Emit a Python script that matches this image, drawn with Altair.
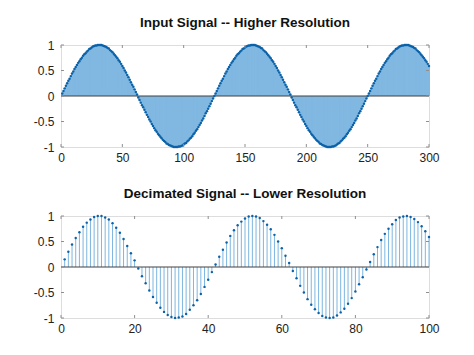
import altair as alt
import pandas as pd

# ---- data ----
top_values = [
    0.05, 0.10, 0.15, 0.20, 0.25, 0.30, 0.34, 0.39, 0.44, 0.48,
    0.53, 0.57, 0.61, 0.65, 0.68, 0.72, 0.75, 0.79, 0.82, 0.84,
    0.87, 0.89, 0.92, 0.93, 0.95, 0.97, 0.98, 0.99, 0.99, 1.00,
    1.00, 1.00, 1.00, 0.99, 0.98, 0.97, 0.96, 0.94, 0.93, 0.90,
    0.88, 0.86, 0.83, 0.80, 0.77, 0.74, 0.70, 0.67, 0.63, 0.59,
    0.55, 0.50, 0.46, 0.41, 0.37, 0.32, 0.27, 0.22, 0.18, 0.13,
    0.08, 0.03, -0.03, -0.08, -0.13, -0.18, -0.22, -0.27, -0.32, -0.37,
    -0.41, -0.46, -0.50, -0.55, -0.59, -0.63, -0.67, -0.70, -0.74, -0.77,
    -0.80, -0.83, -0.86, -0.88, -0.90, -0.93, -0.94, -0.96, -0.97, -0.98,
    -0.99, -1.00, -1.00, -1.00, -1.00, -0.99, -0.99, -0.98, -0.97, -0.95,
    -0.93, -0.92, -0.89, -0.87, -0.84, -0.82, -0.79, -0.75, -0.72, -0.68,
    -0.65, -0.61, -0.57, -0.53, -0.48, -0.44, -0.39, -0.34, -0.30, -0.25,
    -0.20, -0.15, -0.10, -0.05,
    0.00, 0.05, 0.10, 0.15, 0.20, 0.25, 0.30, 0.34, 0.39, 0.44,
    0.48, 0.53, 0.57, 0.61, 0.65, 0.68, 0.72, 0.75, 0.79, 0.82,
    0.84, 0.87, 0.89, 0.92, 0.93, 0.95, 0.97, 0.98, 0.99, 0.99,
    1.00, 1.00, 1.00, 1.00, 0.99, 0.98, 0.97, 0.96, 0.94, 0.93,
    0.90, 0.88, 0.86, 0.83, 0.80, 0.77, 0.74, 0.70, 0.67, 0.63,
    0.59, 0.55, 0.50, 0.46, 0.41, 0.37, 0.32, 0.27, 0.22, 0.18,
    0.13, 0.08, 0.03, -0.03, -0.08, -0.13, -0.18, -0.22, -0.27, -0.32,
    -0.37, -0.41, -0.46, -0.50, -0.55, -0.59, -0.63, -0.67, -0.70, -0.74,
    -0.77, -0.80, -0.83, -0.86, -0.88, -0.90, -0.93, -0.94, -0.96, -0.97,
    -0.98, -0.99, -1.00, -1.00, -1.00, -1.00, -0.99, -0.99, -0.98, -0.97,
    -0.95, -0.93, -0.92, -0.89, -0.87, -0.84, -0.82, -0.79, -0.75, -0.72,
    -0.68, -0.65, -0.61, -0.57, -0.53, -0.48, -0.44, -0.39, -0.34, -0.30,
    -0.25, -0.20, -0.15, -0.10, -0.05,
    0.00, 0.05, 0.10, 0.15, 0.20, 0.25, 0.30, 0.34, 0.39, 0.44,
    0.48, 0.53, 0.57, 0.61, 0.65, 0.68, 0.72, 0.75, 0.79, 0.82,
    0.84, 0.87, 0.89, 0.92, 0.93, 0.95, 0.97, 0.98, 0.99, 0.99,
    1.00, 1.00, 1.00, 1.00, 0.99, 0.98, 0.97, 0.96, 0.94, 0.93,
    0.90, 0.88, 0.86, 0.83, 0.80, 0.77, 0.74, 0.70, 0.67, 0.63,
    0.59,
]

bottom_values = [
    0.15, 0.30, 0.44, 0.57, 0.68, 0.79, 0.87, 0.93, 0.98, 1.00,
    1.00, 0.97, 0.93, 0.86, 0.77, 0.67, 0.55, 0.41, 0.27, 0.13,
    -0.03, -0.18, -0.32, -0.46, -0.59, -0.70, -0.80, -0.88, -0.94, -0.98,
    -1.00, -0.99, -0.97, -0.92, -0.84, -0.75, -0.65, -0.53, -0.39, -0.25,
    -0.10, 0.05, 0.20, 0.34, 0.48, 0.61, 0.72, 0.82, 0.89, 0.95,
    0.99, 1.00, 0.99, 0.96, 0.90, 0.83, 0.74, 0.63, 0.50, 0.37,
    0.22, 0.08, -0.08, -0.22, -0.37, -0.50, -0.63, -0.74, -0.83, -0.90,
    -0.96, -0.99, -1.00, -0.99, -0.95, -0.89, -0.82, -0.72, -0.61, -0.48,
    -0.34, -0.20, -0.05, 0.10, 0.25, 0.39, 0.53, 0.65, 0.75, 0.84,
    0.92, 0.97, 0.99, 1.00, 0.98, 0.94, 0.88, 0.80, 0.70, 0.59,
]

top_x_ticks = [0, 50, 100, 150, 200, 250, 300]
bottom_x_ticks = [0, 20, 40, 60, 80, 100]
y_ticks = [-1, -0.5, 0, 0.5, 1]
titles = ["Input Signal -- Higher Resolution", "Decimated Signal -- Lower Resolution"]

# ---- styling ----
W, H = 368, 102
FONT = "Liberation Sans"
STEM_TOP = "#80b8e2"
STEM_BOT = "#7db6e0"
MARK = "#0b62a8"
BASE = "#404040"
FRAME = "#8f8f8f"


def panel(values, xmax, xticks, title, stem_w, stem_c):
    df = pd.DataFrame({"n": list(range(1, len(values) + 1)), "v": values, "z": 0.0})
    xs = alt.Scale(domain=[0, xmax], nice=False, zero=False)
    ys = alt.Scale(domain=[-1, 1], nice=False)
    xaxis = alt.Axis(values=xticks, title=None, grid=False, domain=False, ticks=False,
                     tickSize=0, labelPadding=5, labelFontSize=12, labelFont=FONT,
                     labelColor="#222222", labelFlush=False, labelOverlap=False)
    yaxis = alt.Axis(values=y_ticks, title=None, grid=False, domain=False, ticks=False,
                     tickSize=0, labelPadding=7, labelFontSize=12, labelFont=FONT,
                     labelColor="#222222", labelExpr="'' + datum.value",
                     labelOverlap=False)
    base = alt.Chart(df)
    stems = base.mark_rule(color=stem_c, strokeWidth=stem_w).encode(
        x=alt.X("n:Q", scale=xs, axis=xaxis),
        y=alt.Y("v:Q", scale=ys, axis=yaxis),
        y2="z:Q",
    )
    baseline = alt.Chart(pd.DataFrame({"a": [0], "b": [xmax], "z": [0]})).mark_rule(
        color=BASE, strokeWidth=1
    ).encode(x=alt.X("a:Q", scale=xs, axis=xaxis), x2="b:Q",
             y=alt.Y("z:Q", scale=ys, axis=yaxis))
    marks = base.mark_circle(color=MARK, size=6, opacity=1).encode(
        x=alt.X("n:Q", scale=xs, axis=xaxis), y=alt.Y("v:Q", scale=ys, axis=yaxis)
    )
    xt = alt.Chart(pd.DataFrame({"t": xticks}))
    yt = alt.Chart(pd.DataFrame({"t": y_ticks}))
    tick_style = dict(color=FRAME, strokeWidth=1)
    xt_bot = xt.mark_rule(**tick_style).encode(
        x=alt.X("t:Q", scale=xs, axis=xaxis), y=alt.value(H - 3), y2=alt.value(H))
    xt_top = xt.mark_rule(**tick_style).encode(
        x=alt.X("t:Q", scale=xs, axis=xaxis), y=alt.value(0), y2=alt.value(3))
    yt_l = yt.mark_rule(**tick_style).encode(
        y=alt.Y("t:Q", scale=ys, axis=yaxis), x=alt.value(0), x2=alt.value(3))
    yt_r = yt.mark_rule(**tick_style).encode(
        y=alt.Y("t:Q", scale=ys, axis=yaxis), x=alt.value(W - 3), x2=alt.value(W))
    return alt.layer(stems, baseline, marks, xt_bot, xt_top, yt_l, yt_r).properties(
        width=W, height=H,
        title=alt.TitleParams(title, fontSize=13.5, fontWeight="bold", font=FONT,
                              color="#111111", offset=10),
    )


top = panel(top_values, 300, top_x_ticks, titles[0], 2.0, STEM_TOP)
bottom = panel(bottom_values, 100, bottom_x_ticks, titles[1], 1.0, STEM_BOT)

chart = alt.vconcat(top, bottom, spacing=22).properties(
    padding={"left": 24, "top": 7, "right": 5, "bottom": 5}
).configure_view(stroke=FRAME, strokeWidth=1).configure(background="white")

chart.save("out.html", embed_options={"renderer": "svg", "actions": False})
